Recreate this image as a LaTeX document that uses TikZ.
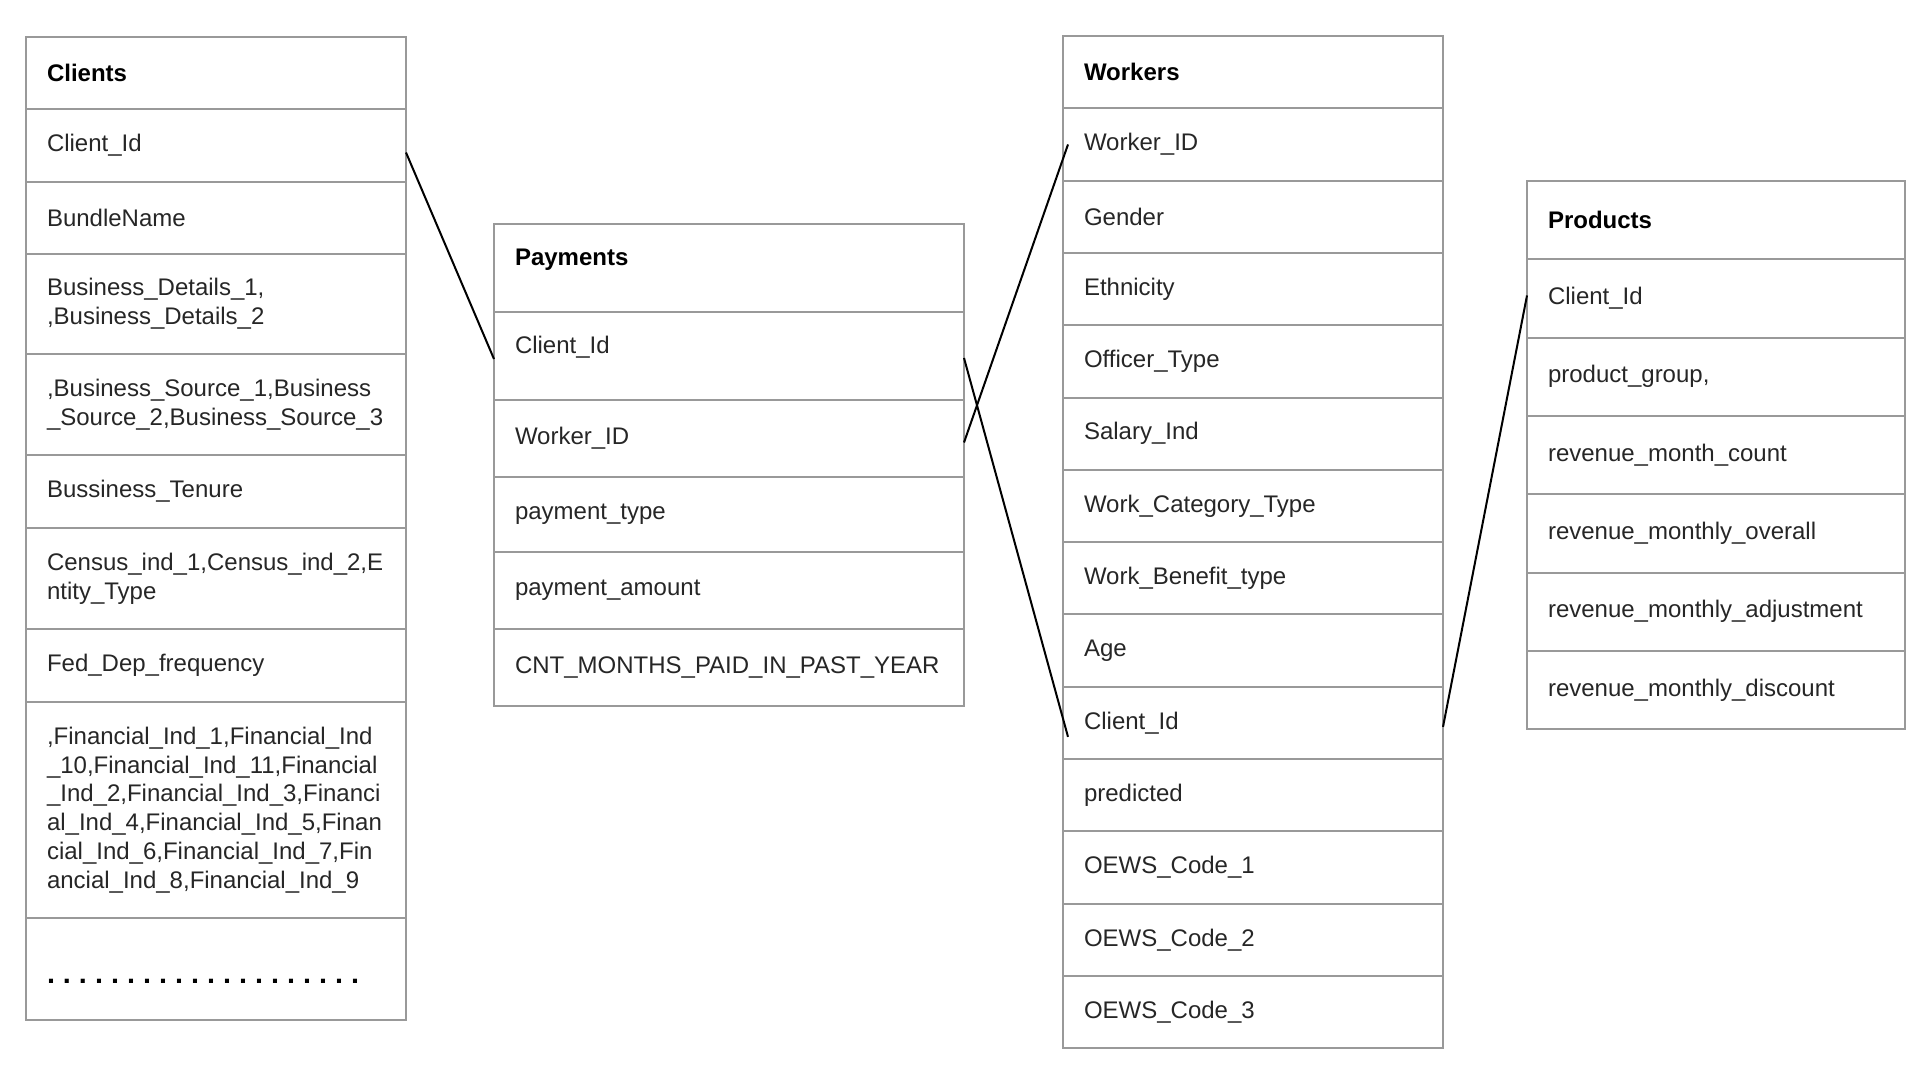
\documentclass[tikz,border=0pt]{standalone}
\usepackage{fontspec}
\setmainfont{Liberation Sans}
\usepackage{tikz}
\usetikzlibrary{positioning,calc}
\hyphenpenalty=10000
\exhyphenpenalty=10000

\begin{document}
\begin{tikzpicture}[x=0.5pt, y=-0.5pt, node distance=0pt]
        \tikzset{cell/.style={rectangle, draw=black!40, line width=1pt, outer sep=0pt, inner xsep=10.5pt, inner ysep=0pt, align=left, text width=169pt, font=\fontsize{12}{14.4}\selectfont, text=black!85}}
        \tikzset{head/.style={cell, font=\fontsize{12}{14.4}\selectfont\bfseries, text=black}}
        \tikzset{paycell/.style={text width=214pt}, workcell/.style={minimum height=36.15pt}, prodcell/.style={text width=168pt, minimum height=39.15pt}}
        \tikzset{link/.style={draw=black, line width=1pt}}
        \useasboundingbox (0,0) rectangle (1920,1070);
        % Clients
        \node[head, minimum height=36pt, anchor=north west] (clients) at (26,37) {Clients};
        \node[cell, minimum height=36.5pt, below=of clients] (clientid) {Client\_Id};
        \node[cell, minimum height=36pt, below=of clientid] (bundlename) {BundleName};
        \node[cell, minimum height=50pt, below=of bundlename] (busdetails) {Business\_Details\_1,\\,Business\_Details\_2};
        \node[cell, minimum height=50.5pt, below=of busdetails] (bussource) {,Business\_Source\_1,Business\\\_Source\_2,Business\_Source\_3};
        \node[cell, minimum height=36.5pt, below=of bussource] (bustenure) {Bussiness\_Tenure};
        \node[cell, minimum height=50.5pt, below=of bustenure] (census) {Census\_ind\_1,Census\_ind\_2,E\\ntity\_Type};
        \node[cell, minimum height=36.5pt, below=of census] (feddep) {Fed\_Dep\_frequency};
        \node[cell, minimum height=108pt, below=of feddep] (financial) {,Financial\_Ind\_1,Financial\_Ind\\\_10,Financial\_Ind\_11,Financial\\\_Ind\_2,Financial\_Ind\_3,Financi\\al\_Ind\_4,Financial\_Ind\_5,Finan\\cial\_Ind\_6,Financial\_Ind\_7,Fin\\ancial\_Ind\_8,Financial\_Ind\_9};
        \node[cell, minimum height=51pt, text height=14.5pt, text depth=0pt, font=\fontsize{14.4}{16}\selectfont\bfseries, text=black, below=of financial] (moreclient) {\spaceskip=4pt\xspaceskip=4pt . . . . . . . . . . . . . . . . . . . .};
        % Payments
        \node[head, paycell, minimum height=44pt, text height=8.6pt, text depth=11pt, anchor=north west] (payments) at (494,224) {Payments};
        \node[cell, paycell, minimum height=44pt, text height=8.6pt, text depth=11pt, below=of payments] (payclient) {Client\_Id};
        \node[cell, paycell, minimum height=38.5pt, below=of payclient] (payworker) {Worker\_ID};
        \node[cell, paycell, minimum height=37.5pt, below=of payworker] (paytype) {payment\_type};
        \node[cell, paycell, minimum height=38.5pt, below=of paytype] (payamount) {payment\_amount};
        \node[cell, paycell, minimum height=38.5pt, below=of payamount] (paymonths) {CNT\_MONTHS\_PAID\_IN\_PAST\_YEAR};
        % Workers
        \node[head, workcell, anchor=north west] (workers) at (1063,36) {Workers};
        \node[cell, workcell, below=of workers] (workerid) {Worker\_ID};
        \node[cell, workcell, below=of workerid] (gender) {Gender};
        \node[cell, workcell, below=of gender] (ethnicity) {Ethnicity};
        \node[cell, workcell, below=of ethnicity] (officer) {Officer\_Type};
        \node[cell, workcell, below=of officer] (salary) {Salary\_Ind};
        \node[cell, workcell, below=of salary] (workcat) {Work\_Category\_Type};
        \node[cell, workcell, below=of workcat] (benefit) {Work\_Benefit\_type};
        \node[cell, workcell, below=of benefit] (age) {Age};
        \node[cell, workcell, below=of age] (workclient) {Client\_Id};
        \node[cell, workcell, below=of workclient] (predicted) {predicted};
        \node[cell, workcell, below=of predicted] (oewsone) {OEWS\_Code\_1};
        \node[cell, workcell, below=of oewsone] (oewstwo) {OEWS\_Code\_2};
        \node[cell, workcell, below=of oewstwo] (oewsthree) {OEWS\_Code\_3};
        % Products
        \node[head, prodcell, anchor=north west] (products) at (1527,181) {Products};
        \node[cell, prodcell, below=of products] (prodclient) {Client\_Id};
        \node[cell, prodcell, below=of prodclient] (prodgroup) {product\_group,};
        \node[cell, prodcell, below=of prodgroup] (revcount) {revenue\_month\_count};
        \node[cell, prodcell, below=of revcount] (revoverall) {revenue\_monthly\_overall};
        \node[cell, prodcell, below=of revoverall] (revadjust) {revenue\_monthly\_adjustment};
        \node[cell, prodcell, below=of revadjust] (revdiscount) {revenue\_monthly\_discount};
        % links
        \draw[link] ($(clientid.east)+(0,7)$) -- ($(payclient.west)+(0,3)$);
        \draw[link] ($(payclient.east)+(0,2)$) -- ($(workclient.west)+(5,14)$);
        \draw[link] ($(payworker.east)+(0,4)$) -- ($(workerid.west)+(5,0)$);
        \draw[link] ($(workclient.east)+(0,4)$) -- ($(prodclient.west)+(0,-3)$);
\end{tikzpicture}
\end{document}
